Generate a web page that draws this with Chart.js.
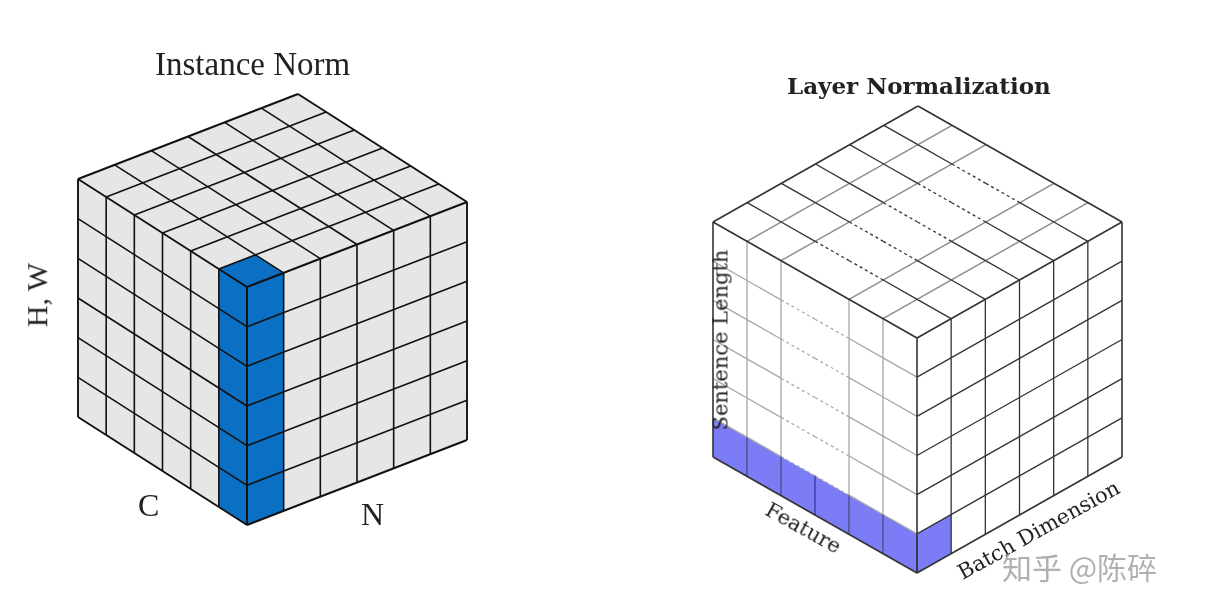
<!DOCTYPE html>
<html>
<head>
<meta charset="utf-8">
<script src="https://cdn.jsdelivr.net/npm/chart.js@4.4.0/dist/chart.umd.min.js"></script>
<style>
  body { margin: 0; background: #fff; }
  #wrap { position: relative; width: 1212px; height: 609px; }
  .lbl { position: absolute; font-family: "DejaVu Serif", "Liberation Serif", serif; color: #222; white-space: nowrap; transform-origin: center center; }
</style>
</head>
<body>
<div id="wrap">
  <canvas id="c" width="1212" height="609"></canvas>
  <div class="lbl" style="left:155px;top:46px;font-size:33px;font-family:'Liberation Serif',serif;">Instance Norm</div>
  <div class="lbl" style="left:5px;top:278px;font-size:30px;font-family:'Liberation Serif',serif;transform:rotate(-90deg);">H, W</div>
  <div class="lbl" style="left:138px;top:487px;font-size:32px;font-family:'Liberation Serif',serif;">C</div>
  <div class="lbl" style="left:361px;top:496px;font-size:32px;font-family:'Liberation Serif',serif;">N</div>
  <div class="lbl" style="left:787px;top:72px;font-size:23px;font-weight:bold;">Layer Normalization</div>
  <div class="lbl" style="left:630px;top:328px;font-size:21px;transform:rotate(-90deg);">Sentence Length</div>
  <div class="lbl" style="left:762px;top:516px;font-size:21px;transform:rotate(29deg);">Feature</div>
  <div class="lbl" style="left:948px;top:518px;font-size:21px;transform:rotate(-29deg);">Batch Dimension</div>
  <div class="lbl" style="left:1002px;top:544px;font-size:30px;color:rgba(150,150,150,0.75);font-family:'Noto Sans CJK SC',sans-serif;">知乎 @陈碎</div>
</div>
<script>
// grid sizes (cells along a / b / height)
const gridA = 6, gridB = 6, gridH = 6;
// highlighted cells: [face, i, k]
const instanceCells = [['L',0,0],['L',0,1],['L',0,2],['L',0,3],['L',0,4],['L',0,5],
                       ['R',0,0],['R',0,1],['R',0,2],['R',0,3],['R',0,4],['R',0,5],['T',0,0]];
const layerCells = [['L',0,0],['L',1,0],['L',2,0],['L',3,0],['L',4,0],['L',5,0],['R',0,0]];
const layerGap = [2, 4];   // feature columns drawn as "..."

// projection settings per cube (pixels)
const cubes = [
  { o: [247, 525], a: [-169, -108], b: [220, -85], h: 238, fill: '#e6e6e6', hi: '#0b6fc3',
    cells: instanceCells, light: '#111', dark: '#111', lw: 1.6, gap: null },
  { o: [917, 573], a: [-204, -116], b: [205, -116], h: 235, fill: '#ffffff', hi: 'rgba(110,110,245,0.9)',
    cells: layerCells, light: '#a8a8a8', dark: '#333', lw: 1.3, gap: layerGap }
];

function P(cb, u, v, w) {
  return [cb.o[0] + cb.a[0] * u / gridA + cb.b[0] * v / gridB,
          cb.o[1] + cb.a[1] * u / gridA + cb.b[1] * v / gridB - cb.h * w / gridH];
}

const cubePlugin = {
  id: 'cubes',
  afterDatasetsDraw(chart) {
    const ctx = chart.ctx, sx = chart.scales.x, sy = chart.scales.y;
    const px = p => [sx.getPixelForValue(p[0]), sy.getPixelForValue(p[1])];
    const poly = (pts, fill) => {
      ctx.beginPath();
      pts.map(px).forEach((p, i) => i ? ctx.lineTo(p[0], p[1]) : ctx.moveTo(p[0], p[1]));
      ctx.closePath(); ctx.fillStyle = fill; ctx.fill();
    };
    const line = (p1, p2, col, lw, dash) => {
      const a = px(p1), b = px(p2);
      ctx.beginPath(); ctx.setLineDash(dash ? [3, 3] : []);
      ctx.strokeStyle = col; ctx.lineWidth = lw;
      ctx.moveTo(a[0], a[1]); ctx.lineTo(b[0], b[1]); ctx.stroke();
      ctx.setLineDash([]);
    };
    cubes.forEach(cb => {
      const isHi = (f, i, k) => cb.cells.some(c => c[0] === f && c[1] === i && c[2] === k);
      // faces: L (u,w), R (v,w), T (u,v at top)
      for (let i = 0; i < gridA; i++) for (let k = 0; k < gridH; k++)
        poly([P(cb,i,0,k), P(cb,i+1,0,k), P(cb,i+1,0,k+1), P(cb,i,0,k+1)], isHi('L',i,k) ? cb.hi : cb.fill);
      for (let j = 0; j < gridB; j++) for (let k = 0; k < gridH; k++)
        poly([P(cb,0,j,k), P(cb,0,j+1,k), P(cb,0,j+1,k+1), P(cb,0,j,k+1)], isHi('R',j,k) ? cb.hi : cb.fill);
      for (let i = 0; i < gridA; i++) for (let j = 0; j < gridB; j++)
        poly([P(cb,i,j,gridH), P(cb,i+1,j,gridH), P(cb,i+1,j+1,gridH), P(cb,i,j+1,gridH)], isHi('T',i,j) ? cb.hi : cb.fill);
      const g = cb.gap, lw = cb.lw;
      const inGap = u => g && u >= g[0] && u < g[1];
      // left face
      for (let i = 1; i < gridA; i++) {
        if (g && i > g[0] && i < g[1]) continue;
        line(P(cb,i,0,0), P(cb,i,0,gridH), cb.light, lw);
      }
      for (let k = 1; k < gridH; k++) for (let i = 0; i < gridA; i++)
        line(P(cb,i,0,k), P(cb,i+1,0,k), cb.light, lw, inGap(i));
      // top face
      for (let i = 1; i < gridA; i++) {
        if (g && i > g[0] && i < g[1]) continue;
        line(P(cb,i,0,gridH), P(cb,i,gridB,gridH), g ? '#8a8a8a' : cb.dark, lw);
      }
      for (let j = 1; j < gridB; j++) for (let i = 0; i < gridA; i++)
        line(P(cb,i,j,gridH), P(cb,i+1,j,gridH), cb.dark, lw, inGap(i));
      // right face
      for (let j = 1; j < gridB; j++) line(P(cb,0,j,0), P(cb,0,j,gridH), cb.dark, lw);
      for (let k = 1; k < gridH; k++) line(P(cb,0,0,k), P(cb,0,gridB,k), cb.dark, lw);
      // highlighted bottom row edge in layer cube
      if (g) for (let i = 0; i < gridA; i++) line(P(cb,i,0,0), P(cb,i,0,1), 'rgba(40,40,140,0.8)', lw);
      // outline
      const e = [[0,0,0],[gridA,0,0],[gridA,0,gridH],[gridA,gridB,gridH],[0,gridB,gridH],[0,gridB,0]];
      for (let n = 0; n < e.length; n++) line(P(cb,...e[n]), P(cb,...e[(n+1)%e.length]), cb.dark, lw + 0.3);
      line(P(cb,0,0,0), P(cb,0,0,gridH), cb.dark, lw + 0.3);
      line(P(cb,0,0,gridH), P(cb,gridA,0,gridH), cb.dark, lw + 0.3);
      line(P(cb,0,0,gridH), P(cb,0,gridB,gridH), cb.dark, lw + 0.3);
    });
  }
};

new Chart(document.getElementById('c'), {
  type: 'scatter',
  data: { datasets: [{ data: [], pointRadius: 0 }] },
  options: {
    responsive: false, animation: false,
    layout: { padding: 0 },
    plugins: { legend: { display: false }, tooltip: { enabled: false } },
    scales: {
      x: { type: 'linear', min: 0, max: 1212, display: false },
      y: { type: 'linear', min: 0, max: 609, reverse: true, display: false }
    }
  },
  plugins: [cubePlugin]
});
</script>
</body>
</html>
